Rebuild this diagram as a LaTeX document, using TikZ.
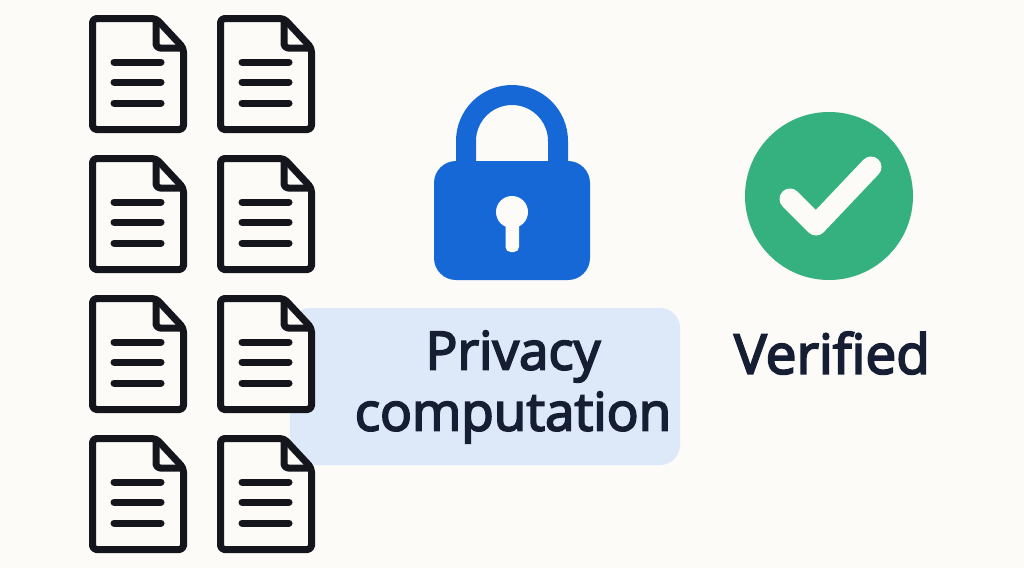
\documentclass[tikz,border=0pt]{standalone}
\usepackage{fontspec}
\newfontfamily\labelfont[FakeBold=3.4]{Open Sans}
\usetikzlibrary{positioning}

\definecolor{pagebg}{HTML}{FCFBF8}
\definecolor{docink}{HTML}{14161C}
\definecolor{boxblue}{HTML}{DDE8F9}
\definecolor{lockblue}{HTML}{1668D6}
\definecolor{checkgreen}{HTML}{35B17F}
\definecolor{labelink}{HTML}{151E33}

\tikzset{
  docline/.style={draw=docink, line width=7pt, rounded corners=4pt, line join=round},
  docrow/.style={draw=docink, line width=7pt, line cap=round},
  biglabel/.style={text=labelink, font=\labelfont\fontsize{53}{61}\selectfont, align=center, inner sep=0pt},
}

\begin{document}
\begin{tikzpicture}[x=1pt, y=-1pt]
\useasboundingbox[fill=pagebg] (0,0) rectangle (1024,568);

% label box sits behind the documents
\fill[boxblue, rounded corners=20pt] (290,308) rectangle (680,465);
\node[biglabel] (privacy) at (513,387) {Privacy\\computation};

% documents
\foreach \col in {0,128} {
  \foreach \row in {0,140,280,420} {
    \begin{scope}[shift={(\col,\row)}]
      \draw[docline, fill=pagebg] (92.5,18.5) -- (156,18.5) -- (183.5,48) -- (183.5,129.5) -- (92.5,129.5) -- cycle;
      \draw[docline] (156,18.5) -- (156,48) -- (183.5,48);
      \foreach \y in {62,82,103} \draw[docrow] (114,\y) -- (161,\y);
    \end{scope}
  }
}

% lock
\fill[lockblue, even odd rule] (456,170) -- (456,141) arc[start angle=180, end angle=360, radius=56] -- (568,170) -- cycle
  (476,161) -- (476,141) arc[start angle=180, end angle=360, radius=36] -- (548,161) -- cycle;
\fill[lockblue, rounded corners=22pt] (434,161) rectangle (590,280);
\fill[pagebg] (512,212) circle[radius=16];
\fill[pagebg, rounded corners=5pt] (505.5,215) rectangle (519,252);

% check
\fill[checkgreen] (829,196) circle[radius=84];
\draw[draw=pagebg, line width=21pt, line cap=round, line join=round] (790,199) -- (816,225) -- (871,167);
\node[biglabel, font=\labelfont\fontsize{55}{61}\selectfont] (verified) at (832,353) {Verified};
\end{tikzpicture}
\end{document}
